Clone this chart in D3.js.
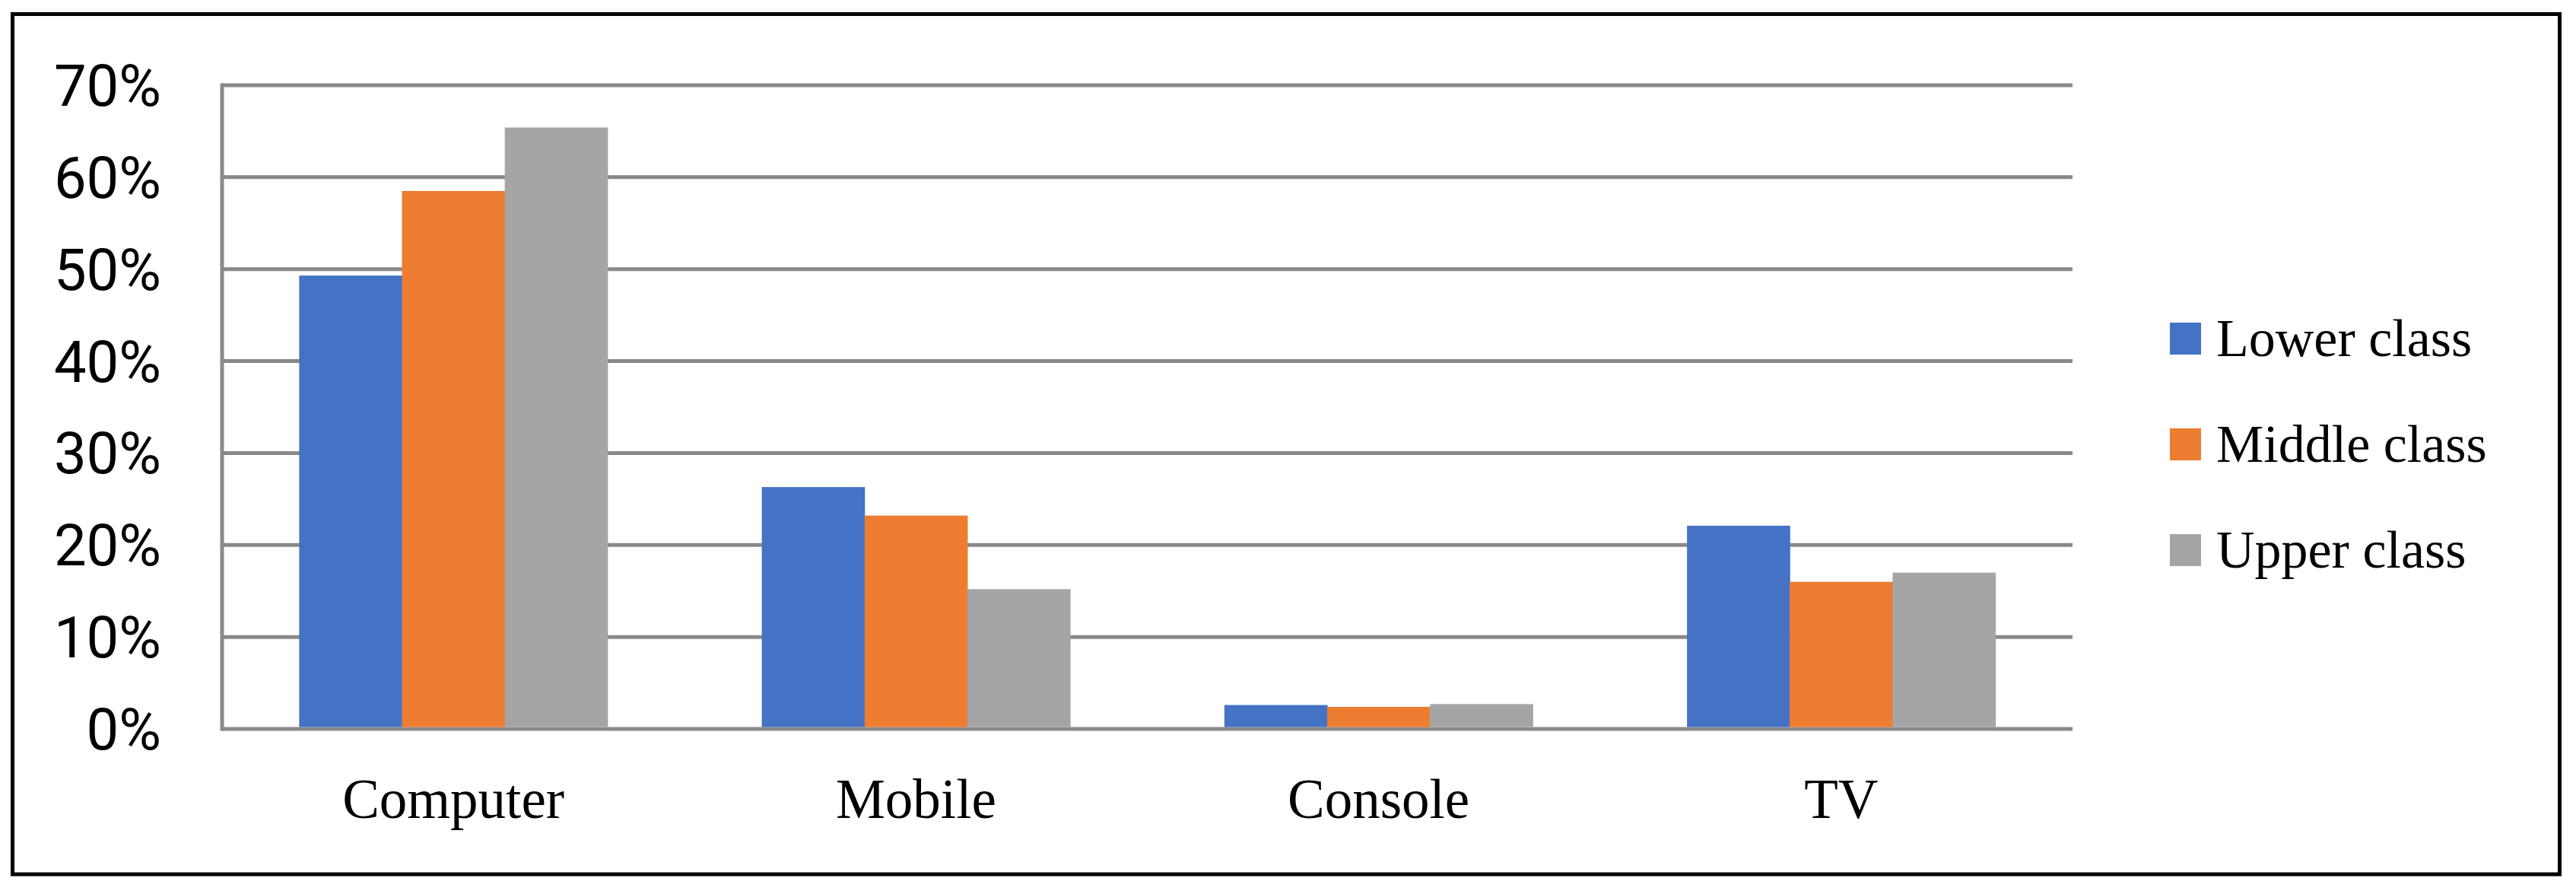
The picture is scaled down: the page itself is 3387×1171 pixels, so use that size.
<!DOCTYPE html>
<html>
<head>
<meta charset="utf-8">
<script src="https://cdn.jsdelivr.net/npm/d3@7"></script>
<style>
  html, body { margin: 0; padding: 0; background: #fff; }
  svg { display: block; }
</style>
</head>
<body>
<script>
// data
const categories = ['Computer', 'Mobile', 'Console', 'TV']
const seriesNames = ['Lower class', 'Middle class', 'Upper class']
const lowerClass = [0.493, 0.263, 0.026, 0.221]
const middleClass = [0.585, 0.232, 0.024, 0.160]
const upperClass = [0.654, 0.152, 0.027, 0.170]
const yTicks = [0, 0.1, 0.2, 0.3, 0.4, 0.5, 0.6, 0.7]

const W = 3387
const H = 1171
const colors = ['#4472C4', '#ED7D31', '#A5A5A5']
const GRID = '#898989'

const svg = d3.select('body').append('svg')
    .attr('width', W)
    .attr('height', H)

// outer frame
svg.append('rect')
    .attr('x', 16.5).attr('y', 18.5)
    .attr('width', 3365.5 - 16.5).attr('height', 1149 - 18.5)
    .attr('fill', 'none')
    .attr('stroke', '#000')
    .attr('stroke-width', 5)

const plot = { left: 292, right: 2725, top: 112, bottom: 958 }

const x = d3.scaleBand()
    .domain(categories)
    .range([plot.left, plot.right])
    .paddingInner(1 / 3)
    .paddingOuter(1 / 6)

const x1 = d3.scaleBand()
    .domain(seriesNames)
    .range([0, x.bandwidth()])

const y = d3.scaleLinear()
    .domain([0, 0.7])
    .range([plot.bottom, plot.top])

// gridlines
svg.append('g')
    .selectAll('line')
    .data(yTicks)
    .join('line')
    .attr('x1', plot.left).attr('x2', plot.right)
    .attr('y1', d => y(d)).attr('y2', d => y(d))
    .attr('stroke', GRID)
    .attr('stroke-width', 5)

// left axis line
svg.append('line')
    .attr('x1', plot.left).attr('x2', plot.left)
    .attr('y1', y(0.7) - 2.5).attr('y2', y(0) + 2.5)
    .attr('stroke', GRID)
    .attr('stroke-width', 5)

// y tick labels
const fmt = d3.format('.0%')
svg.append('g')
    .selectAll('text')
    .data(yTicks)
    .join('text')
    .attr('x', 212)
    .attr('y', d => y(d) + 27)
    .attr('text-anchor', 'end')
    .style('font-family', 'Roboto, "Liberation Sans", sans-serif')
    .style('font-size', '76px')
    .attr('fill', '#000')
    .text(d => fmt(d))

// bars
const series = [lowerClass, middleClass, upperClass]
const rows = []
categories.forEach((c, i) => {
    seriesNames.forEach((s, j) => {
        rows.push({ cat: c, name: s, value: series[j][i], color: colors[j] })
    })
})

svg.append('g')
    .selectAll('rect')
    .data(rows)
    .join('rect')
    .attr('x', d => x(d.cat) + x1(d.name))
    .attr('width', x1.bandwidth() + 0.5)
    .attr('y', d => y(d.value))
    .attr('height', d => y(0) - y(d.value) - 2.5)
    .attr('fill', d => d.color)

// category labels
svg.append('g')
    .selectAll('text')
    .data(categories)
    .join('text')
    .attr('x', d => x(d) + x.bandwidth() / 2)
    .attr('y', 1075)
    .attr('text-anchor', 'middle')
    .style('font-family', '"Liberation Serif", "Times New Roman", serif')
    .style('font-size', '73px')
    .attr('fill', '#000')
    .text(d => d)

// legend
const legendY = d3.scalePoint()
    .domain(seriesNames)
    .range([445, 723])

const legend = svg.append('g')
    .selectAll('g')
    .data(seriesNames)
    .join('g')
    .attr('transform', d => `translate(2853, ${legendY(d)})`)

legend.append('rect')
    .attr('x', 0).attr('y', -21)
    .attr('width', 41).attr('height', 42)
    .attr('fill', (d, i) => colors[i])

legend.append('text')
    .attr('x', 61)
    .attr('y', 23)
    .style('font-family', '"Liberation Serif", "Times New Roman", serif')
    .style('font-size', '70px')
    .attr('fill', '#000')
    .text(d => d)
</script>
</body>
</html>
